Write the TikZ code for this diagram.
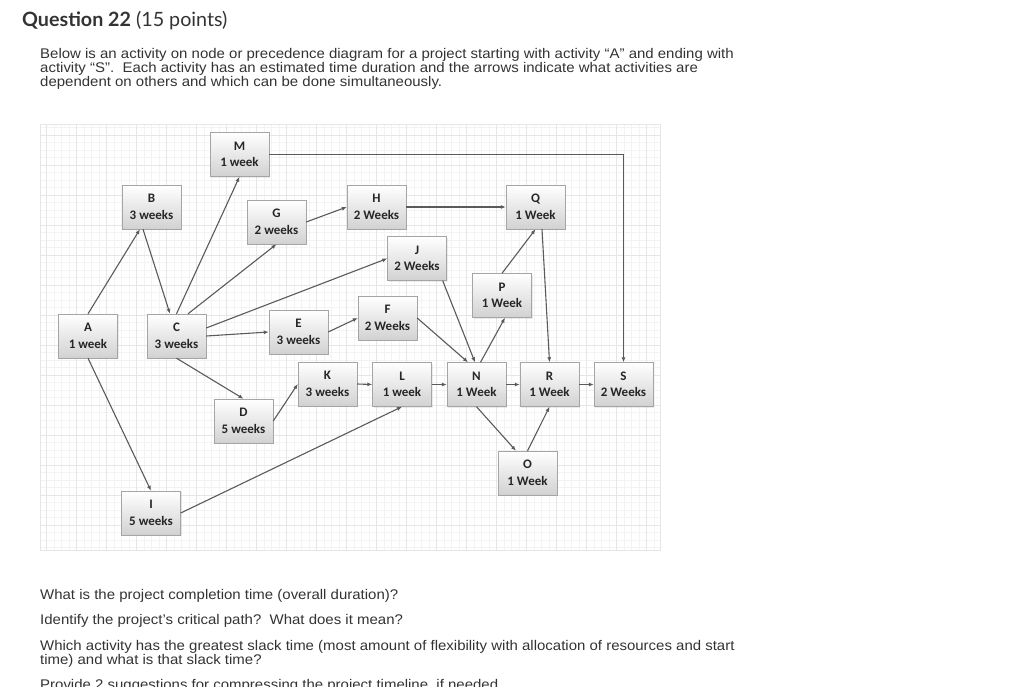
\documentclass[tikz,border=0pt]{standalone}
\usepackage{fontspec}
\setmainfont{Liberation Sans}
\newfontfamily\latofont{Lato}
\newfontfamily\boxfont{Carlito}
\usepackage{graphicx}
\usepackage{tikz}
\usetikzlibrary{arrows.meta}
\usetikzlibrary{shadows}
\usepackage{xcolor}
\definecolor{ColText}{RGB}{51,51,51}
\definecolor{ColLine}{RGB}{90,90,90}
\definecolor{ColBox}{RGB}{165,165,165}
\definecolor{ColGridA}{RGB}{243,243,243}
\definecolor{ColGridB}{RGB}{230,230,230}
\newcommand{\WideLine}[1]{\scalebox{1.07}[1]{#1}}
\tikzstyle{NodeAct}=[rectangle,draw=ColBox,top color=white,bottom color=ColGridB!90!black!95,
minimum width=59pt,minimum height=44pt,inner sep=1pt,align=center,text=black!85,
font=\boxfont\bfseries\fontsize{13}{16.5}\selectfont,
drop shadow={shadow xshift=1pt,shadow yshift=-1pt,opacity=.15}]
\tikzstyle{EdgeAct}=[ColLine,line width=1.1pt,-{Latex[length=5pt,width=4pt]}]
\tikzstyle{TextLine}=[anchor=base west,inner sep=0pt,text=ColText,
font=\fontsize{14}{14}\selectfont]
\tikzstyle{GridMinor}=[ColGridA,line width=.7pt]
\tikzstyle{GridMajor}=[ColGridB,line width=.9pt]

\begin{document}
\begin{tikzpicture}[x=1pt,y=-1pt]
    \useasboundingbox(0,0)rectangle(1024,687);
    \clip(0,0)rectangle(1024,687);
    % heading and question text
    \node[TextLine,font=\latofont\fontsize{19.7}{19}\selectfont](title)at(22,27)
        {\textbf{Question 22} (15 points)};
    \node[TextLine](intro1)at(40,58.5){\WideLine{Below is an activity on node or precedence diagram for a project starting with activity “A” and ending with}};
    \node[TextLine](intro2)at(40,72.5){\WideLine{activity “S”.\ \ Each activity has an estimated time duration and the arrows indicate what activities are}};
    \node[TextLine](intro3)at(40,86.5){\WideLine{dependent on others and which can be done simultaneously.}};
    \node[TextLine](ask1)at(40,599){\WideLine{What is the project completion time (overall duration)?}};
    \node[TextLine](ask2)at(40,624){\WideLine{Identify the project’s critical path?\ \ What does it mean?}};
    \node[TextLine](ask3)at(40,650){\WideLine{Which activity has the greatest slack time (most amount of flexibility with allocation of resources and start}};
    \node[TextLine](ask4)at(40,664){\WideLine{time) and what is that slack time?}};
    \node[TextLine](ask5)at(40,689){\WideLine{Provide 2 suggestions for compressing the project timeline, if needed.}};
    % grid paper
    \foreach \gx in {46.7,54.2,...,660}\draw[GridMinor](\gx,125)--(\gx,550);
    \foreach \gy in {127.5,135,...,550}\draw[GridMinor](40,\gy)--(660,\gy);
    \foreach \gx in {46.7,76.7,...,660}\draw[GridMajor](\gx,125)--(\gx,550);
    \foreach \gy in {135,165,...,550}\draw[GridMajor](40,\gy)--(660,\gy);
    \draw[ColGridB,line width=1pt](40,125)rectangle(660,550);
    % activities
    \node[NodeAct](a)at(88,336){A\\1 week};
    \node[NodeAct](b)at(151.5,207){B\\3 weeks};
    \node[NodeAct](c)at(176.5,336){C\\3 weeks};
    \node[NodeAct](m)at(239.5,154.5){M\\1 week};
    \node[NodeAct](g)at(276.5,222){G\\2 weeks};
    \node[NodeAct](e)at(298.5,332){E\\3 weeks};
    \node[NodeAct](d)at(243.5,421){D\\5 weeks};
    \node[NodeAct](k)at(327.5,384){K\\3 weeks};
    \node[NodeAct](i)at(151,513){I\\5 weeks};
    \node[NodeAct](h)at(376.5,207){H\\2 Weeks};
    \node[NodeAct](q)at(535.5,207){Q\\1 Week};
    \node[NodeAct](j)at(417,258.5){J\\2 Weeks};
    \node[NodeAct](p)at(502,295.5){P\\1 Week};
    \node[NodeAct](f)at(387.5,318){F\\2 Weeks};
    \node[NodeAct](l)at(402,384.5){L\\1 week};
    \node[NodeAct](n)at(476.5,384.5){N\\1 Week};
    \node[NodeAct](r)at(549.5,384.5){R\\1 Week};
    \node[NodeAct](s)at(623.5,384.5){S\\2 Weeks};
    \node[NodeAct](o)at(527.5,473){O\\1 Week};
    % dependencies
    \draw[EdgeAct](a.north)--([xshift=-11.5]b.south);
    \draw[EdgeAct](a.south)--(i.north);
    \draw[EdgeAct]([xshift=-8.5]b.south)--([xshift=-6.5]c.north);
    \draw[EdgeAct](c.north)--(m.south);
    \draw[EdgeAct]([xshift=11.5]c.north)--(g.south);
    \draw[EdgeAct]([yshift=8]c.east)--(j.west);
    \draw[EdgeAct](c.east)--(e.west);
    \draw[EdgeAct](c.south)--(d.north);
    \draw[EdgeAct](g.east)--(h.west);
    \draw[EdgeAct](h.east)--(q.west);
    \draw[EdgeAct](e.east)--(f.west);
    \draw[EdgeAct](d.east)--(k.west);
    \draw[EdgeAct](k.east)--(l.west);
    \draw[EdgeAct](i.east)--(l.south);
    \draw[EdgeAct](l.east)--(n.west);
    \draw[EdgeAct](f.east)--([xshift=-8.5]n.north);
    \draw[EdgeAct]([xshift=-4]j.south east)--([xshift=-1.5]n.north);
    \draw[EdgeAct]([xshift=4]n.north)--([xshift=3]p.south);
    \draw[EdgeAct](p.north)--(q.south);
    \draw[EdgeAct]([xshift=6.5]q.south)--(r.north);
    \draw[EdgeAct](m.east)-|(s.north);
    \draw[EdgeAct](n.east)--(r.west);
    \draw[EdgeAct](r.east)--(s.west);
    \draw[EdgeAct](n.south)--([xshift=-11.5]o.north);
    \draw[EdgeAct](o.north)--(r.south);
\end{tikzpicture}
\end{document}
